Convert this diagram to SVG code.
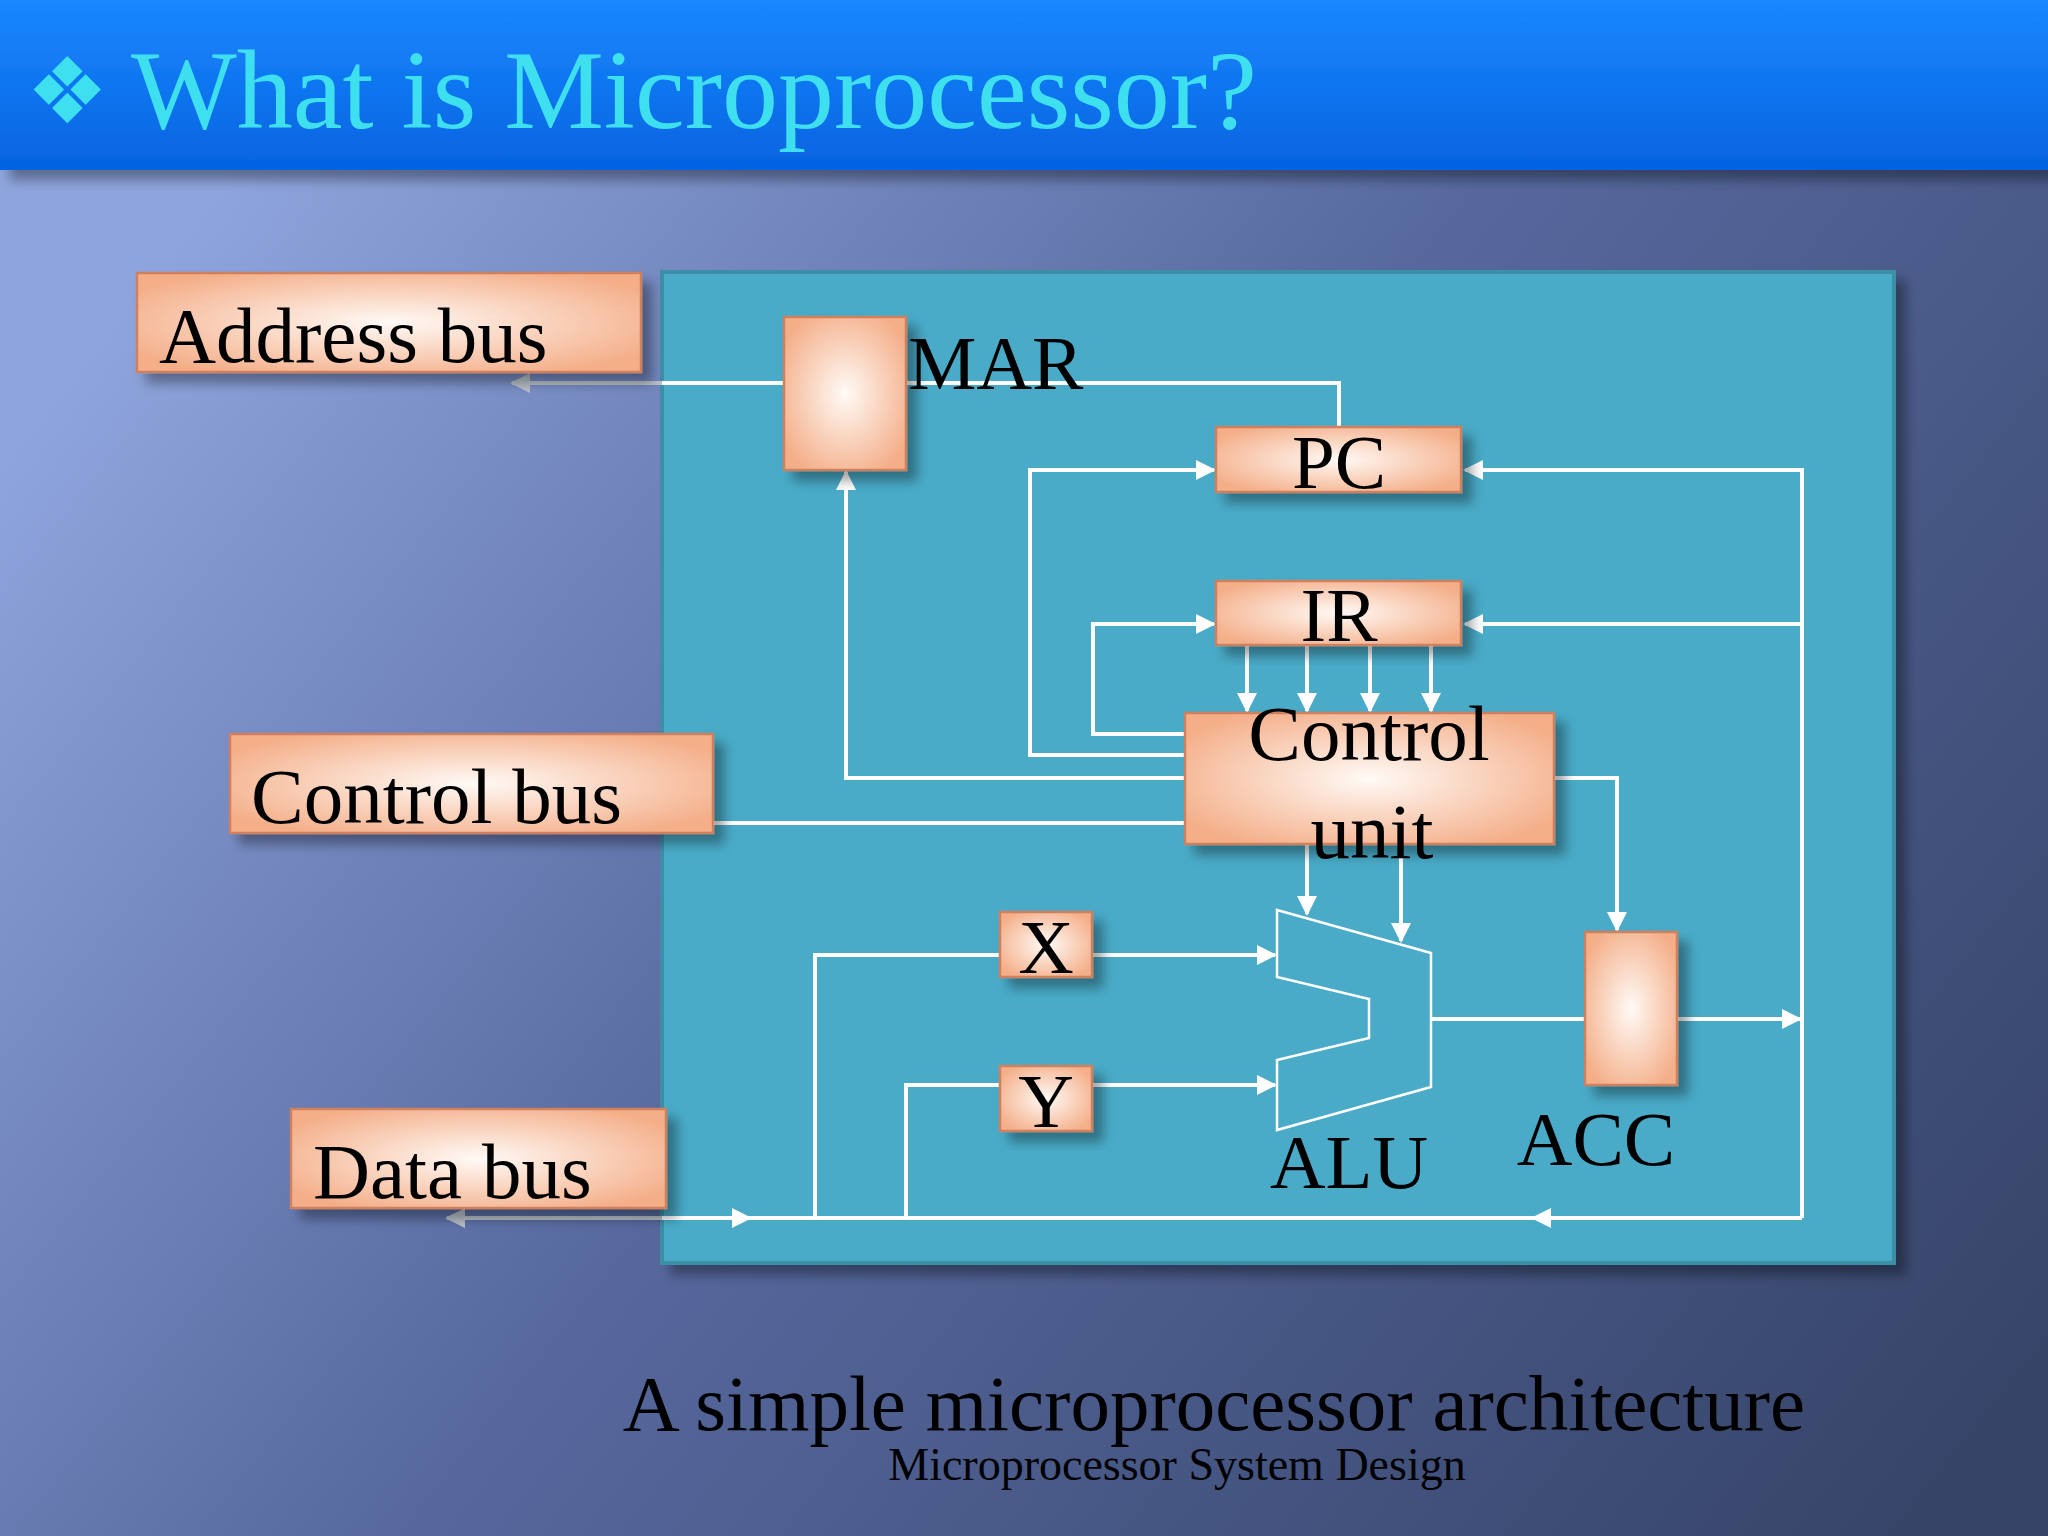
<svg xmlns="http://www.w3.org/2000/svg" width="2048" height="1536" viewBox="0 0 2048 1536">
<defs>
<linearGradient id="bg" x1="0" y1="0.3" x2="1" y2="0.9">
<stop offset="0" stop-color="#8ea4dc"/><stop offset="0.45" stop-color="#56689e"/><stop offset="1" stop-color="#364468"/>
</linearGradient>
<linearGradient id="tb" x1="0" y1="0" x2="0" y2="1">
<stop offset="0" stop-color="#1a88ff"/><stop offset="1" stop-color="#0563e0"/>
</linearGradient>
<radialGradient id="bx" cx="0.5" cy="0.5" r="0.6">
<stop offset="0" stop-color="#fffaf6"/><stop offset="1" stop-color="#f4ae88"/>
</radialGradient>
<filter id="sh" x="-20%" y="-20%" width="150%" height="150%">
<feDropShadow dx="10" dy="10" stdDeviation="6" flood-color="#000" flood-opacity="0.35"/>
</filter>
<marker id="ar" viewBox="0 0 10 10" refX="9" refY="5" markerWidth="5" markerHeight="5" orient="auto-start-reverse">
<path d="M0,0 L10,5 L0,10 z" fill="#fff"/>
</marker>
<marker id="ag" viewBox="0 0 10 10" refX="9" refY="5" markerWidth="5" markerHeight="5" orient="auto-start-reverse">
<path d="M0,0 L10,5 L0,10 z" fill="#b8c0c8"/>
</marker>
</defs>
<style>
.box{fill:url(#bx);stroke:#d0805c;stroke-width:2.5;filter:url(#sh)}
.t{font-family:"Liberation Serif",serif;fill:#000}
.w{stroke:#fff;stroke-width:4;fill:none}
.g{stroke:#b8c0c8;stroke-width:4;fill:none}
</style>
<rect width="2048" height="1536" fill="url(#bg)"/>
<rect x="0" y="0" width="2048" height="170" fill="url(#tb)" filter="url(#sh)"/>
<text x="26" y="123" font-family="DejaVu Sans,sans-serif" font-size="92" fill="#3ee0f0">❖</text>
<text x="131" y="128" class="t" font-size="112" style="fill:#3ee0f0">What is Microprocessor?</text>
<rect x="662" y="272" width="1232" height="991" fill="#4aabc8" stroke="#3a90a8" stroke-width="4" filter="url(#sh)"/>
<g id="connectors">
<path class="g" d="M662,383 H512" marker-end="url(#ag)"/>
<path class="w" d="M784,383 H662"/>
<path class="w" d="M906,383 H1339 V427"/>
<path class="w" d="M1185,755 H1030 V470 H1214" marker-end="url(#ar)"/>
<path class="w" d="M1185,734 H1093 V624 H1214" marker-end="url(#ar)"/>
<path class="w" d="M1185,778 H846 V472" marker-end="url(#ar)"/>
<path class="w" d="M713,823 H1185"/>
<path class="w" d="M1247,645 V711" marker-end="url(#ar)"/>
<path class="w" d="M1307,645 V711" marker-end="url(#ar)"/>
<path class="w" d="M1370,645 V711" marker-end="url(#ar)"/>
<path class="w" d="M1431,645 V711" marker-end="url(#ar)"/>
<path class="w" d="M1307,844 V914" marker-end="url(#ar)"/>
<path class="w" d="M1401,844 V941" marker-end="url(#ar)"/>
<path class="w" d="M1554,778 H1617 V930" marker-end="url(#ar)"/>
<path class="w" d="M1431,1019 H1585"/>
<path class="w" d="M1677,1019 H1800" marker-end="url(#ar)"/>
<path class="w" d="M1802,1218 V470 H1465" marker-end="url(#ar)"/>
<path class="w" d="M1802,624 H1465" marker-end="url(#ar)"/>
<path class="g" d="M662,1218 H447" marker-end="url(#ag)"/>
<path class="w" d="M662,1218 H750" marker-end="url(#ar)"/>
<path class="w" d="M750,1218 H1802"/>
<path class="w" d="M1560,1218 H1533" marker-end="url(#ar)"/>
<path class="w" d="M815,1218 V955 H1000"/>
<path class="w" d="M1092,955 H1275" marker-end="url(#ar)"/>
<path class="w" d="M906,1218 V1085 H1000"/>
<path class="w" d="M1092,1085 H1275" marker-end="url(#ar)"/>
</g>
<g id="address-bus"><rect class="box" x="137" y="273" width="504" height="99"/><text class="t" x="159" y="362" font-size="79">Address bus</text></g>
<g id="control-bus"><rect class="box" x="230" y="734" width="483" height="99"/><text class="t" x="251" y="823" font-size="79">Control bus</text></g>
<g id="data-bus"><rect class="box" x="291" y="1109" width="375" height="99"/><text class="t" x="313" y="1198" font-size="79">Data bus</text></g>
<g id="mar"><rect class="box" x="784" y="317" width="122" height="153"/><text class="t" x="908" y="389" font-size="77">MAR</text></g>
<g id="pc"><rect class="box" x="1216" y="427" width="245" height="65"/><text class="t" x="1339" y="488" font-size="77" text-anchor="middle">PC</text></g>
<g id="ir"><rect class="box" x="1216" y="581" width="245" height="64"/><text class="t" x="1339" y="641" font-size="77" text-anchor="middle">IR</text></g>
<g id="control-unit"><rect class="box" x="1185" y="713" width="369" height="131"/><text class="t" x="1369" y="760" font-size="79" text-anchor="middle">Control</text><text class="t" x="1372" y="858" font-size="79" text-anchor="middle">unit</text></g>
<g id="x"><rect class="box" x="1000" y="912" width="92" height="65"/><text class="t" x="1046" y="973" font-size="77" text-anchor="middle">X</text></g>
<g id="y"><rect class="box" x="1000" y="1066" width="92" height="65"/><text class="t" x="1046" y="1127" font-size="77" text-anchor="middle">Y</text></g>
<g id="alu"><polygon points="1277,910 1431,953 1431,1087 1277,1130 1277,1060 1369,1038 1369,999 1277,977" fill="none" stroke="#fff" stroke-width="2.5"/><text class="t" x="1349" y="1188" font-size="77" text-anchor="middle">ALU</text></g>
<g id="acc"><rect class="box" x="1585" y="932" width="92" height="153"/><text class="t" x="1596" y="1165" font-size="77" text-anchor="middle">ACC</text></g>
<text class="t" x="1214" y="1430" font-size="79" text-anchor="middle">A simple microprocessor architecture</text>
<text class="t" x="1177" y="1480" font-size="46" text-anchor="middle">Microprocessor System Design</text>
</svg>
